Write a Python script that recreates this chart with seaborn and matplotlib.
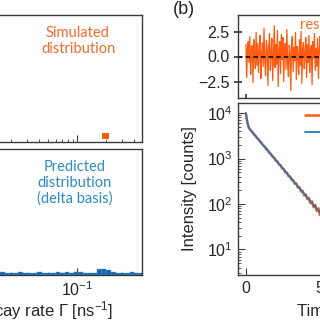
import numpy as np
import matplotlib
matplotlib.use("Agg")
import matplotlib.pyplot as plt
import seaborn as sns
from matplotlib.ticker import LogLocator, NullFormatter, FixedLocator, FixedFormatter

sns.set_theme(style="white")
plt.rcParams["font.family"] = ["Liberation Sans", "DejaVu Sans"]
plt.rcParams["mathtext.fontset"] = "custom"
plt.rcParams["mathtext.rm"] = "Liberation Sans"
plt.rcParams["mathtext.it"] = "Liberation Sans:italic"
plt.rcParams["mathtext.bf"] = "Liberation Sans:bold"

# ---------------- data ----------------
sim_rate = [0.2]
sim_amp = [0.0]

basis_rates = [0.006, 0.0067, 0.0075, 0.0084, 0.0093, 0.0104, 0.0117, 0.0130,
               0.0146, 0.0163, 0.0183, 0.0204, 0.0229, 0.0256, 0.0286, 0.032,
               0.036, 0.040, 0.045, 0.050, 0.056, 0.063, 0.070, 0.079, 0.088,
               0.098, 0.110, 0.123, 0.138, 0.154, 0.172, 0.193, 0.216, 0.241,
               0.270, 0.302, 0.338, 0.378, 0.423, 0.474]
pred_amp = [0.018, 0.015, 0.020, 0.016, 0.019, 0.014, 0.020, 0.017,
            0.015, 0.021, 0.016, 0.019, 0.014, 0.020, 0.017, 0.019,
            0.015, 0.021, 0.016, 0.019, 0.017, 0.022, 0.016, 0.020, 0.018,
            0.021, 0.024, 0.016, 0.019, 0.017, 0.050, 0.050, 0.040, 0.020,
            0.016, 0.019, 0.015, 0.020, 0.017, 0.019]
rate_ticks = [0.01, 0.1]
rate_tick_labels = ["", "$\\mathdefault{10^{-1}}$"]

residuals = [1.2, -2.1, 0.8, 1.5, -0.6, 2.0, -1.8, 0.4, 1.1, -2.6, 1.7, 0.3,
             -1.2, 2.4, -0.9, 1.3, -1.6, 0.7, 2.1, -2.2, 0.2, 1.4, -1.0, 2.8,
             -0.5, -1.9, 1.6, 0.9, -2.9, 1.0, 2.3, -1.4, 0.5, 1.8, -2.4, 0.1,
             3.1, -1.1, 1.2, -0.8, 2.6, -3.0, 0.6, 1.5, -1.7, 2.2, -0.3, 1.9,
             -2.5, 0.8, 1.3, -1.3, 2.7, -0.7, -2.0, 1.1, 0.4, -3.4, 1.6, 2.0,
             -1.5, 0.9, -0.4, 2.4, -2.3, 1.0, 0.2, -1.8, 1.7, -0.9, 2.5, -2.7,
             0.7, 1.4, -1.2, 0.3, 1.9, -2.1, 1.2, -0.6, 2.1, -1.6, 0.5, 1.1,
             -2.8, 1.5, -0.2, 2.3, -1.4, 0.8, -1.0, 1.8, -2.2, 0.6, 2.0, -0.8,
             -1.7, 1.3, 0.4, -2.4, 1.6, 2.2, -1.1, 0.9, -3.1, 1.4, 0.1, -1.5,
             2.6, -0.7]
res_time = np.arange(len(residuals)) * 0.5

decay_time = [0, 0.5, 1, 1.5, 2, 2.5, 3, 4, 5, 6, 7, 8, 9, 10, 11, 12, 13, 14,
              15, 16, 17, 18, 19, 20, 21, 22, 23, 24, 25, 26, 27, 28, 29, 30,
              31, 32, 33, 34, 35, 36, 37, 38, 39, 40, 41, 42, 43, 44, 45, 46,
              47, 48, 49, 50, 51, 52, 53, 54, 55]
decay_counts = [9800, 7700, 6050, 5260, 4650, 4430, 4150, 3880, 3430, 3200,
                2830, 2660, 2340, 2190, 1930, 1820, 1600, 1510, 1320, 1250,
                1090, 1040, 895, 860, 740, 715, 605, 590, 500, 490, 410, 405,
                338, 335, 280, 281, 230, 233, 188, 195, 155, 163, 128, 136,
                104, 114, 85, 95, 70, 80, 57, 67, 46, 56, 38, 47, 31, 40, 26]
fit_counts = [10000, 7600, 6100, 5200, 4700, 4400, 4200, 3820, 3474, 3159,
              2873, 2613, 2376, 2161, 1965, 1787, 1625, 1478, 1344, 1222,
              1112, 1011, 919, 836, 760, 692, 629, 572, 520, 473, 430, 391,
              356, 324, 294, 268, 243, 221, 201, 183, 167, 152, 138, 125,
              114, 104, 94, 86, 78, 71, 65, 59, 53, 49, 44, 40, 37, 33, 30]

# ---------------- style ----------------
ORANGE = "#ff5a0f"
TXT_ORANGE = "#f26b2a"
BLUE = "#2a78b4"
TXT_BLUE = "#2d8ac6"
SPINE = "#3a3a3a"
W = H = 320.0


def box(x0, y0, x1, y1):
    return [x0 / W, 1 - y1 / H, (x1 - x0) / W, (y1 - y0) / H]


def style_spines(ax):
    for s in ax.spines.values():
        s.set_color(SPINE)
        s.set_linewidth(1.0)


fig = plt.figure(figsize=(3.2, 3.2), dpi=100)

# ---- top-left: simulated distribution ----
ax1 = fig.add_axes(box(-40, 15, 142, 142))
sns.scatterplot(x=sim_rate, y=sim_amp, marker="s", s=24, color=ORANGE,
                edgecolor="none", ax=ax1, zorder=5, clip_on=False)
ax1.set_xscale("log")
ax1.set_xlim(0.005867, 0.4832)
ax1.set_ylim(-0.05, 1)
ax1.set_yticks([])
ax1.xaxis.set_major_locator(FixedLocator(rate_ticks))
ax1.xaxis.set_minor_locator(LogLocator(base=10, subs=np.arange(2, 10), numticks=20))
ax1.xaxis.set_minor_formatter(NullFormatter())
ax1.tick_params(axis="x", which="both", direction="in", bottom=True,
                labelbottom=False, color=SPINE)
ax1.tick_params(axis="x", which="major", length=5, width=0.8)
ax1.tick_params(axis="x", which="minor", length=2.5, width=0.6)
style_spines(ax1)

# ---- bottom-left: predicted distribution ----
ax2 = fig.add_axes(box(-40, 149, 142, 275))
sns.histplot(x=basis_rates, weights=pred_amp, bins=40, binrange=(-2.25, -0.3),
             log_scale=True, color="#1565b0", alpha=1.0, edgecolor="#4f9ad6",
             linewidth=0.3, ax=ax2)
ax2.set_xlim(0.005867, 0.4832)
ax2.set_ylim(0, 1)
ax2.set_yticks([])
ax2.set_ylabel("")
ax2.xaxis.set_major_locator(FixedLocator(rate_ticks))
ax2.xaxis.set_major_formatter(FixedFormatter(rate_tick_labels))
ax2.xaxis.set_minor_locator(LogLocator(base=10, subs=np.arange(2, 10), numticks=20))
ax2.xaxis.set_minor_formatter(NullFormatter())
ax2.tick_params(axis="x", which="both", direction="in", bottom=True, color=SPINE,
                labelsize=11.5, pad=4)
ax2.tick_params(axis="x", which="major", length=5, width=0.8)
ax2.tick_params(axis="x", which="minor", length=2.5, width=0.6)
ax2.set_xlabel("Decay rate \u0393 [ns$^{-1}$]", fontsize=12)
ax2.xaxis.set_label_coords(0.458, -0.19)
style_spines(ax2)

# ---- top-right: residuals ----
ax3 = fig.add_axes(box(238, 15, 424, 98))
sns.lineplot(x=res_time, y=residuals, color=ORANGE, lw=0.9, ax=ax3)
ax3.axhline(0, color="black", ls="--", lw=1.1, dashes=(3, 2))
ax3.set_xlim(-5, 113)
ax3.set_ylim(-4.15, 4.15)
ax3.set_yticks([-2.5, 0, 2.5])
ax3.set_xticks([0, 50, 100])
ax3.tick_params(axis="x", direction="in", bottom=True, labelbottom=False,
                length=3, color=SPINE)
ax3.tick_params(axis="y", direction="inout", left=True, length=6,
                labelsize=11.5, color=SPINE, pad=3)
style_spines(ax3)

# ---- bottom-right: decay ----
ax4 = fig.add_axes(box(238, 103, 424, 275))
sns.lineplot(x=decay_time, y=decay_counts, color=ORANGE, lw=1.8, ax=ax4,
             label="data")
sns.lineplot(x=decay_time, y=fit_counts, color=BLUE, lw=1.3, ax=ax4,
             label="fit")
ax4.set_yscale("log")
ax4.set_ylim(2.75, 16600)
ax4.set_xlim(-5, 113)
ax4.set_xticks([0, 50, 100])
ax4.yaxis.set_major_locator(LogLocator(base=10, numticks=10))
ax4.yaxis.set_minor_locator(LogLocator(base=10, subs=np.arange(2, 10), numticks=20))
ax4.yaxis.set_minor_formatter(NullFormatter())
ax4.tick_params(axis="both", which="both", direction="in", left=True,
                bottom=True, color=SPINE, labelsize=11.5)
ax4.tick_params(axis="both", which="major", length=5, width=0.8, pad=4)
ax4.tick_params(axis="y", which="minor", length=2.5, width=0.6)
ax4.set_ylabel("Intensity [counts]", fontsize=12, labelpad=7)
ax4.set_xlabel("Time [ns]", fontsize=12, labelpad=6)
ax4.legend(loc="upper left", bbox_to_anchor=(305 / W, 1 - 110 / H),
           bbox_transform=fig.transFigure, frameon=False, fontsize=9,
           handlelength=2.0, borderpad=0, borderaxespad=0, labelspacing=0.45)
style_spines(ax4)

# ---- annotations ----
fig.text(78 / W, 1 - 41 / H, "Simulated\ndistribution", color=TXT_ORANGE,
         family=["Lato", "DejaVu Sans"], fontsize=10.5, ha="center",
         va="center", linespacing=1.15)
fig.text(75 / W, 1 - 183 / H, "Predicted\ndistribution\n(delta basis)",
         color=TXT_BLUE, family=["Lato", "DejaVu Sans"], fontsize=10.5,
         ha="center", va="center", linespacing=1.15)
fig.text(300 / W, 1 - 25 / H, "residuals", color=TXT_ORANGE,
         family=["Lato", "DejaVu Sans"], fontsize=10.5, ha="left", va="center")
fig.text(173 / W, 1 - 9 / H, "(b)", fontsize=13, ha="left", va="center")

fig.savefig("out.png", dpi=100)
